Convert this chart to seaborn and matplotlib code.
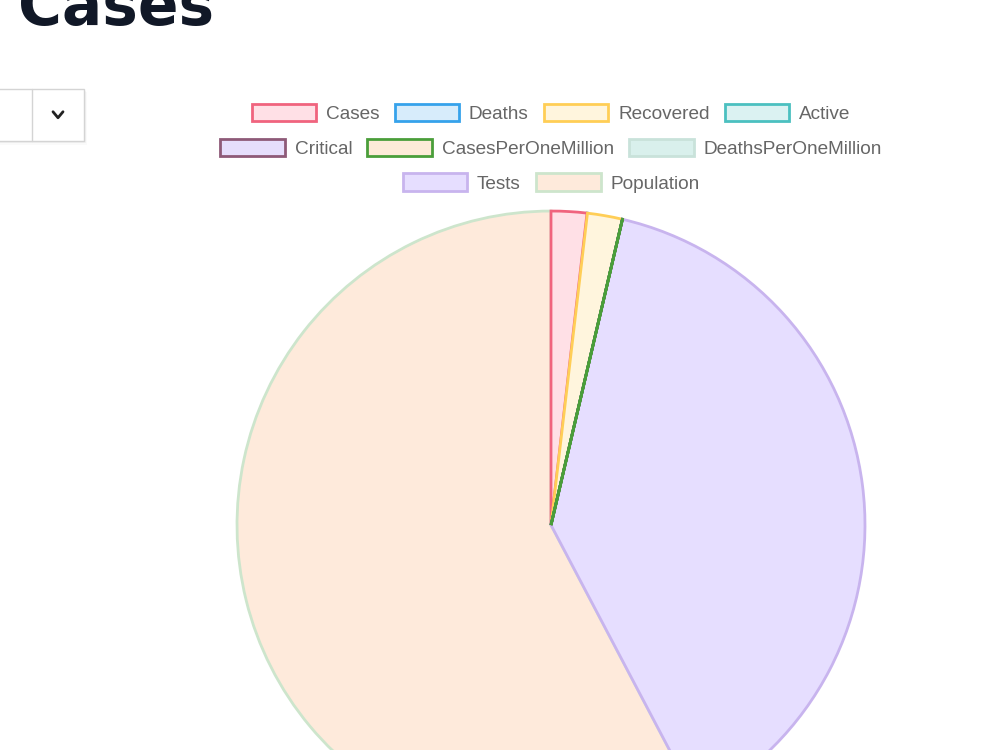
import matplotlib.pyplot as plt
import seaborn as sns
from matplotlib.patches import Rectangle
from matplotlib.lines import Line2D

sns.set_theme(style="white")
plt.rcParams['font.family'] = ['Liberation Sans', 'DejaVu Sans']

# data
labels = ['Cases', 'Deaths', 'Recovered', 'Active', 'Critical',
          'CasesPerOneMillion', 'DeathsPerOneMillion', 'Tests', 'Population']
values = [44600000, 530000, 43800000, 20000, 700,
          31700, 377, 941000000, 1406000000]
fills = ['#FFE0E6', '#D7ECFB', '#FFF5DD', '#DBF2F2', '#E6DEFC',
         '#FDEBD8', '#D9F0EC', '#E6DEFF', '#FEEADB']
borders = ['#F0647E', '#36A2EB', '#FFCE56', '#4BC0C0', '#8E5A78',
           '#4A9E3A', '#C9E2DA', '#C8B4EE', '#CDE5CC']
legend_rows = [labels[0:4], labels[4:7], labels[7:9]]

fig = plt.figure(figsize=(10, 7.5), dpi=100)

# page title, cut off at the top of the screenshot like the reference
fig.text(0.018, 0.967, 'Cases', fontsize=43, fontweight='heavy',
         family='DejaVu Sans', color='#111827', va='baseline', ha='left')

# select box on the left
for i, a in enumerate([0.05, 0.035, 0.02]):
    fig.patches.append(Rectangle((-0.01, 0.811 - 0.002 * i), 0.095 + 0.001 * i, 0.07,
                                 transform=fig.transFigure, facecolor='black',
                                 edgecolor='none', alpha=a, zorder=1))
fig.patches.append(Rectangle((-0.01, 0.812), 0.094, 0.069, transform=fig.transFigure,
                             facecolor='white', edgecolor='#D4D4D4', lw=1, zorder=2))
fig.lines.append(Line2D([0.032, 0.032], [0.812, 0.881], transform=fig.transFigure,
                        color='#D4D4D4', lw=1, zorder=3))
fig.lines.append(Line2D([0.053, 0.058, 0.063], [0.851, 0.843, 0.851],
                        transform=fig.transFigure, color='#222222', lw=2, zorder=3))

# pie
ax = fig.add_axes([0.237, -0.1187, 0.628, 0.8373])
wedges, _ = ax.pie(values, colors=fills, startangle=90, counterclock=False,
                   wedgeprops=dict(linewidth=2))
# stacking of the slice borders, picked to look like the screenshot
order = [8, 7, 9, 10, 11, 11.5, 6, 2, 1]
for w, b, z in zip(wedges, borders, order):
    w.set_edgecolor(b)
    w.set_clip_on(False)
    w.set_zorder(z)
ax.set_xlim(-1, 1)
ax.set_ylim(-1, 1)
ax.set_aspect('equal')
ax.axis('off')

# legend, one centred row at a time like chart.js
lookup = dict(zip(labels, wedges))
for row, y in zip(legend_rows, [0.849, 0.802, 0.756]):
    leg = fig.legend([lookup[l] for l in row], row, loc='center',
                     bbox_to_anchor=(0.551, y), ncol=len(row), frameon=False,
                     fontsize=13.7, handlelength=3.4, handleheight=1.0,
                     handletextpad=0.5, columnspacing=0.8, borderpad=0)
    for t in leg.get_texts():
        t.set_color('#666666')

fig.savefig('out.png', dpi=100)
